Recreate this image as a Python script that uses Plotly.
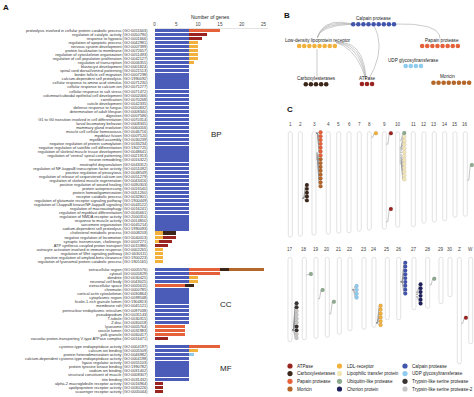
import plotly.graph_objects as go

FONT = "Arial, 'Liberation Sans', sans-serif"

# ---------------- Panel A data ----------------
BP_TERMS = [
    "proteolysis involved in cellular protein catabolic process", "regulation of catalytic activity",
    "response to hypoxia", "regulation of apoptotic process", "nervous system development",
    "protein localization to membrane", "regulation of cytoskeleton organization",
    "regulation of cell population proliferation", "regulation of transcription", "blastocyst development",
    "spinal cord dorsal/ventral patterning", "border follicle cell migration",
    "calcium-dependent self proteolysis", "cellular response to amino acid stimulus",
    "cellular response to calcium ion", "cellular response to salt stress",
    "columnar/cuboidal epithelial cell development", "cornification", "cuticle development",
    "defense response to fungus", "determination of adult lifespan", "digestion",
    "G1 to G0 transition involved in cell differentiation", "larval locomotory behavior",
    "mammary gland involution", "muscle cell cellular homeostasis", "myoblast fusion",
    "myofibril assembly", "negative regulation of protein sumoylation",
    "negative regulation of satellite cell differentiation", "regulation of skeletal muscle tissue development",
    "regulation of 'ventral' spinal cord patterning", "neuron remodeling", "neutrophil degranulation",
    "regulation of NF-kappaB transcription factor activity", "positive regulation of pinocytosis",
    "regulation of release of sequestered calcium ion", "regulation of skeletal muscle regeneration",
    "positive regulation of wound healing", "protein autoprocessing", "protein homooligomerization",
    "receptor catabolic process", "regulation of glutamate receptor signaling pathway",
    "regulation of I-kappaB kinase/NF-kappaB signaling", "regulation of macroautophagy",
    "regulation of myoblast differentiation", "regulation of NMDA receptor activity",
    "response to muscle activity", "sarcomere organization", "sodium-dependent self proteolysis",
    "cholesterol metabolic process", "negative regulation of locomotion",
    "synaptic transmission, cholinergic", "ATP synthesis coupled proton transport",
    "astrocyte activation involved in immune response", "regulation of Wnt signaling pathway",
    "positive regulation of amyloid-beta clearance", "regulation of lysosomal protein catabolic process",
]
BP_IDS = [
    "0051603", "0050790", "0001666", "0042981", "0007399", "0072657", "0051493", "0042127", "0006355", "0001824",
    "0021513", "0007298", "1990092", "0071230", "0071277", "0071472", "0002066", "0070268", "0042335", "0050832",
    "0008340", "0007586", "0070314", "0008345", "0060056", "0046716", "0007520", "0030239", "0033234", "1902725",
    "0048641", "0021913", "0016322", "0043312", "0051092", "0048549", "0051279", "0043416", "0090303", "0016540",
    "0051260", "0032801", "1900449", "0043122", "0016241", "0045661", "2000310", "0014850", "0045214", "1990093",
    "0008203", "0040013", "0007271", "0015986", "0002265", "0030111", "1900223", "1905165",
]
BP_CALPAIN = [8, 8, 8, 8, 8, 8, 8, 8, 8, 8,
              8, 8, 8, 8, 8, 8, 8, 8, 8, 8,
              8, 8, 8, 8, 8, 8, 8, 8, 8, 8,
              8, 8, 8, 8, 8, 8, 8, 8, 8, 8,
              8, 8, 8, 8, 8, 8, 8, 8, 8, 8,
              0, 0, 0, 0, 0, 0, 0, 0]
BP_PAPAIN = [7, 0, 0, 0, 0, 0, 0, 0, 0, 0,
             0, 0, 0, 0, 0, 0, 0, 0, 0, 0,
             0, 0, 0, 0, 0, 0, 0, 0, 0, 0,
             0, 0, 0, 0, 0, 0, 0, 0, 0, 0,
             0, 0, 0, 0, 0, 0, 0, 0, 0, 0,
             0, 0, 0, 0, 0, 0, 0, 0]
BP_LDL = [0, 0, 0, 2, 2, 2, 2, 2, 1, 0,
          0, 0, 0, 0, 0, 0, 0, 0, 0, 0,
          0, 0, 0, 0, 0, 0, 0, 0, 0, 0,
          0, 0, 0, 0, 0, 0, 0, 0, 0, 0,
          0, 0, 0, 0, 0, 0, 0, 0, 0, 0,
          2, 2, 1, 0, 2, 2, 2, 2]
BP_ATPASE = [0, 4, 3, 0, 0, 0, 0, 0, 0, 0,
             0, 0, 0, 0, 0, 0, 0, 0, 0, 0,
             0, 0, 0, 0, 0, 0, 0, 0, 0, 0,
             0, 0, 0, 0, 0, 0, 0, 0, 0, 0,
             0, 0, 0, 0, 0, 0, 0, 0, 0, 0,
             0, 3, 3, 3, 0, 0, 0, 0]
BP_CARBOX = [0, 0, 0, 0, 0, 0, 0, 0, 0, 0,
             0, 0, 0, 0, 0, 0, 0, 0, 0, 0,
             0, 0, 0, 0, 0, 0, 0, 0, 0, 0,
             0, 0, 0, 0, 0, 0, 0, 0, 0, 0,
             0, 0, 0, 0, 0, 0, 0, 0, 0, 0,
             3, 0, 0, 0, 0, 0, 0, 0]

CC_TERMS = [
    "extracellular region", "cytosol", "dendrite", "neuronal cell body", "extracellular space", "chromatin",
    "cortical actin cytoskeleton", "cytoplasmic region", "ficolin-1-rich granule lumen", "membrane raft",
    "perinuclear endoplasmic reticulum", "pseudopodium", "T-tubule", "Z disc", "lysosome", "vesicle lumen",
    "yolk granule", "vacuolar proton-transporting V-type ATPase complex",
]
CC_IDS = ["0005576", "0005829", "0030425", "0043025", "0005615", "0000785", "0030864", "0099568", "1904813",
          "0045121", "0097038", "0031143", "0030315", "0030018", "0005764", "0031983", "0060417", "0016471"]
CC_CALPAIN = [8, 8, 8, 8, 0, 8, 8, 8, 8, 8, 8, 8, 8, 8, 0, 0, 0, 0]
CC_PAPAIN = [7, 7, 0, 0, 7, 0, 0, 0, 0, 0, 0, 0, 0, 0, 7, 7, 7, 0]
CC_LDL = [0, 0, 2, 2, 0, 0, 0, 0, 0, 0, 0, 0, 0, 0, 0, 0, 0, 0]
CC_CARBOX = [2, 0, 0, 0, 2, 0, 0, 0, 0, 0, 0, 0, 0, 0, 0, 0, 0, 0]
CC_MORICIN = [8, 0, 0, 0, 0, 0, 0, 0, 0, 0, 0, 0, 0, 0, 0, 0, 0, 0]
CC_ATPASE = [0, 0, 0, 0, 0, 0, 0, 0, 0, 0, 0, 0, 0, 0, 0, 0, 0, 3]

MF_TERMS = [
    "cysteine-type endopeptidase activity", "calcium ion binding", "protein heterodimerization activity",
    "calcium-dependent cysteine-type endopeptidase activity", "ligase regulator activity",
    "protein tyrosine kinase binding", "sodium ion binding", "structural constituent of muscle", "titin binding",
    "alpha-2 macroglobulin receptor activity", "apolipoprotein receptor activity", "scavenger receptor activity",
]
MF_IDS = ["0004197", "0005509", "0046982", "0004198", "0055103", "1990782", "0031402", "0008307", "0031432",
          "0016964", "0030226", "0005044"]
MF_CALPAIN = [8, 8, 8, 8, 8, 8, 8, 8, 8, 0, 0, 0]
MF_PAPAIN = [7, 0, 0, 0, 0, 0, 0, 0, 0, 0, 0, 0]
MF_LDL = [0, 2, 0, 0, 0, 0, 0, 0, 0, 0, 0, 0]
MF_UDP = [0, 0, 1, 0, 0, 0, 0, 0, 0, 0, 0, 0]
MF_ATPASE = [0, 0, 0, 0, 0, 0, 0, 0, 0, 2, 2, 2]

TICKS_A = [0, 5, 10, 15, 20, 25]

# ---------------- Panel B data ----------------
NODES = ["Calpain protease", "Low-density lipoprotein receptor", "Papain protease", "UDP glycosyltransferase",
         "Carboxylesterases", "ATPase", "Moricin"]
NODE_GENES = [9, 8, 8, 4, 5, 3, 8]
EDGES = [("Calpain protease", "Low-density lipoprotein receptor", 4),
         ("Calpain protease", "Papain protease", 1),
         ("Calpain protease", "ATPase", 1),
         ("Low-density lipoprotein receptor", "ATPase", 4),
         ("Low-density lipoprotein receptor", "Carboxylesterases", 1)]

# ---------------- Panel C data ----------------
CHROMS_ROW1 = ["1", "2", "3", "4", "5", "6", "7", "8", "9", "10", "11", "12", "13", "14", "15", "16"]
CHROM_LEN_ROW1 = [21.1, 20.9, 20.7, 20.5, 20.3, 20.2, 19.9, 19.7, 19.5, 19.1, 19.0, 18.3, 18.1, 17.8, 17.1, 16.9]
CHROMS_ROW2 = ["17", "18", "19", "20", "21", "22", "23", "24", "25", "26", "27", "28", "29", "30", "Z", "W"]
CHROM_LEN_ROW2 = [16.9, 16.5, 16.2, 16.0, 15.4, 14.7, 14.4, 14.0, 12.5, 12.5, 10.5, 10.2, 9.3, 7.9, 21.3, 17.3]

# gene clusters: chromosome, families of member genes (in order), loci (Mb)
CL_CHROM = ["2", "3", "8", "9", "9", "10", "16", "17", "18", "19", "20", "22", "24", "26", "27", "28", "Z"]
CL_FAMILIES = [
    ["Carboxylesterases"] * 5,
    ["Papain protease"] * 7 + ["Moricin"] * 8,
    ["LDL-receptor"],
    ["ATPase"],
    ["ATPase"],
    ["Ubiquitin-like protease"] + ["Lipophilic transfer protein"] * 12,
    ["Ubiquitin-like protease"],
    ["Trypsin-like serine protease"] * 2 + ["Trypsin-like serine protease-2"] * 4
    + ["Trypsin-like serine protease"] * 2 + ["Trypsin-like serine protease-2"] * 2,
    ["Ubiquitin-like protease"],
    ["Ubiquitin-like protease"],
    ["Ubiquitin-like protease"],
    ["UDP glycosyltransferase"] * 4,
    ["LDL-receptor"] * 6,
    ["Calpain protease"] * 9,
    ["Chorion protein"] * 6,
    ["Ubiquitin-like protease"],
    ["ATPase"],
]
CL_LOCI = [
    [13.3, 13.3, 13.3, 13.3, 13.3],
    [0.3, 0.3, 0.3, 0.3, 0.3, 0.3, 0.3, 4.2, 4.4, 4.6, 4.8, 5.0, 5.2, 5.4, 5.6],
    [1.1], [2.5], [18.0],
    [1.7, 3.1, 3.3, 3.6, 3.9, 4.2, 4.5, 4.8, 5.1, 5.4, 5.7, 6.0, 6.3],
    [9.7],
    [14.5] * 10,
    [3.5], [8.3], [11.3],
    [6.5, 6.5, 6.5, 6.5],
    [13.1] * 6,
    [4.9] * 9,
    [7.0, 7.0, 7.4, 7.4, 7.9, 7.9],
    [5.5], [13.2],
]

LEGEND_COLS = [["ATPase", "Carboxylesterases", "Papain protease", "Moricin"],
               ["LDL-receptor", "Lipophilic transfer protein", "Ubiquitin-like protease", "Chorion protein"],
               ["Calpain protease", "UDP glycosyltransferase", "Trypsin-like serine protease",
                "Trypsin-like serine protease-2"]]

# ---------------- styles ----------------
COL = {
    "Calpain protease": "#4354ad", "LDL-receptor": "#f2b03c", "Papain protease": "#e5613a",
    "UDP glycosyltransferase": "#8ecbef", "Carboxylesterases": "#3c2619", "ATPase": "#9a2420",
    "Moricin": "#b5672a", "Lipophilic transfer protein": "#f3e6b6", "Ubiquitin-like protease": "#8eab8f",
    "Chorion protein": "#20205e", "Trypsin-like serine protease": "#3b3532",
    "Trypsin-like serine protease-2": "#c6c6c6",
}
COL["Low-density lipoprotein receptor"] = COL["LDL-receptor"]

W, H = 474, 397
fig = go.Figure()

# ======== Panel A ========
groups = [
    ("BP", BP_TERMS, BP_IDS, {"Calpain protease": BP_CALPAIN, "Papain protease": BP_PAPAIN,
                              "LDL-receptor": BP_LDL, "ATPase": BP_ATPASE, "Carboxylesterases": BP_CARBOX}),
    ("CC", CC_TERMS, CC_IDS, {"Calpain protease": CC_CALPAIN, "Papain protease": CC_PAPAIN,
                              "LDL-receptor": CC_LDL, "Carboxylesterases": CC_CARBOX, "Moricin": CC_MORICIN,
                              "ATPase": CC_ATPASE}),
    ("MF", MF_TERMS, MF_IDS, {"Calpain protease": MF_CALPAIN, "Papain protease": MF_PAPAIN,
                              "LDL-receptor": MF_LDL, "UDP glycosyltransferase": MF_UDP, "ATPase": MF_ATPASE}),
]
stack_order = ["Calpain protease", "Papain protease", "LDL-receptor", "UDP glycosyltransferase", "ATPase",
               "Carboxylesterases", "Moricin"]
A_COL = dict(COL)
A_COL["Calpain protease"] = "#4a5cb8"

ypos_all, ticktext_all, group_mid = [], [], []
fam_x = {f: [] for f in stack_order}
fam_y = {f: [] for f in stack_order}
offset = 0
for gname, terms, ids, counts in groups:
    ys = [offset + i for i in range(len(terms))]
    ypos_all += ys
    ticktext_all += [f"{t} (GO:{g})" for t, g in zip(terms, ids)]
    group_mid.append((gname, (ys[0] + ys[-1]) / 2))
    for f in stack_order:
        if f in counts:
            fam_x[f] += counts[f]
            fam_y[f] += ys
    offset += len(terms) + 1
n_slots = offset - 1

for f in stack_order:
    fig.add_trace(go.Bar(orientation="h", x=fam_x[f], y=fam_y[f], width=0.8,
                         marker=dict(color=A_COL[f], line=dict(width=0)),
                         xaxis="x", yaxis="y", showlegend=False, hoverinfo="skip"))

px_per_gene = 4.36
x0_px = 154.5
xmax = 26
top_px, pitch = 30.3, (391.3 - 30.3) / (n_slots - 1)
ytop = top_px - pitch / 2
ybot = top_px + (n_slots - 0.5) * pitch

# ======== Panel B ========
NODE_LAYOUT = {  # label x, label y, dot row y, dot row center x
    "Calpain protease": (373.5, 18.5, 24.3, 373.6),
    "Low-density lipoprotein receptor": (317.5, 40.8, 46.0, 317.0),
    "Papain protease": (441.5, 40.6, 46.0, 440.0),
    "UDP glycosyltransferase": (413.5, 60.0, 66.0, 413.3),
    "Carboxylesterases": (316.5, 78.8, 84.3, 316.0),
    "ATPase": (366.5, 78.0, 84.0, 367.0),
    "Moricin": (447.0, 76.6, 82.7, 451.3),
}
EDGE_GEOM = {  # start, end, list of control points (one per parallel line)
    ("Calpain protease", "Low-density lipoprotein receptor"):
        ((352.0, 24.0), (317.5, 37.5), [(324, 17), (322, 20), (321, 23), (320, 26)]),
    ("Calpain protease", "Papain protease"): ((395.0, 24.0), (440.0, 38.5), [(440, 23)]),
    ("Calpain protease", "ATPase"): ((374.5, 26.5), (368.5, 79.5), [(386, 50)]),
    ("Low-density lipoprotein receptor", "ATPase"):
        ((336.0, 42.5), (366.0, 79.5), [(364, 40), (362, 43), (360, 46), (357, 49)]),
    ("Low-density lipoprotein receptor", "Carboxylesterases"): ((317.0, 49.0), (317.0, 76.5), [(317, 62)]),
}
ex, ey = [], []
for s, t, n in EDGES:
    p0, p2, ctrls = EDGE_GEOM[(s, t)]
    for c in ctrls[:n]:
        for k in range(25):
            u = k / 24
            ex.append((1 - u) ** 2 * p0[0] + 2 * (1 - u) * u * c[0] + u ** 2 * p2[0])
            ey.append((1 - u) ** 2 * p0[1] + 2 * (1 - u) * u * c[1] + u ** 2 * p2[1])
        ex.append(None)
        ey.append(None)
fig.add_trace(go.Scatter(x=ex, y=ey, mode="lines", line=dict(color="#b4b4b4", width=0.7),
                         xaxis="x2", yaxis="y2", showlegend=False, hoverinfo="skip"))

annots = []
b_spacing = 5.1
for name, ng in zip(NODES, NODE_GENES):
    lx, ly, dy, dcx = NODE_LAYOUT[name]
    xs = [dcx + (i - (ng - 1) / 2) * b_spacing for i in range(ng)]
    fig.add_trace(go.Scatter(x=xs, y=[dy] * ng, mode="markers",
                             marker=dict(size=4.6, color=COL[name], line=dict(width=0)),
                             xaxis="x2", yaxis="y2", showlegend=False, hoverinfo="skip"))
    annots.append(dict(x=lx, y=ly, xref="x2", yref="y2", text=name, showarrow=False,
                       font=dict(size=4.6, color="#222", family=FONT)))

# ======== Panel C ========
ROW_TOP = [131.7, 257.3]
ROW_X = [[290.3, 300.3, 314.0, 328.3, 338.7, 349.0, 359.3, 369.3, 384.3, 397.7, 413.3, 424.0, 434.3, 444.7, 455.0,
          465.3],
         [290.0, 304.3, 316.0, 327.3, 339.3, 350.0, 364.0, 374.0, 387.3, 398.7, 414.0, 427.7, 441.0, 450.0, 459.3,
          470.7]]
PX_PER_MB = 5.0
CHR_W = 4.0
LABEL_DY = 7.5
DOT_DX = 6.6
DOT_STEP = 3.85
CL_DOT_START = [185.0, 132.3, 133.3, 133.3, 209.0, 133.0, 165.0, 303.3, 274.0, 290.0, 301.7, 286.0, 305.7, 262.7,
                284.3, 278.7, 317.7]

chrom_pos = {}
shapes = []
for r, (names, lens) in enumerate([(CHROMS_ROW1, CHROM_LEN_ROW1), (CHROMS_ROW2, CHROM_LEN_ROW2)]):
    for name, ln, xc in zip(names, lens, ROW_X[r]):
        y0 = ROW_TOP[r]
        y1 = y0 + ln * PX_PER_MB
        chrom_pos[name] = (xc, y0)
        rr = CHR_W / 2
        a, b = xc - rr, xc + rr
        path = (f"M {a},{y0 + rr} Q {a},{y0} {xc},{y0} Q {b},{y0} {b},{y0 + rr} L {b},{y1 - rr} "
                f"Q {b},{y1} {xc},{y1} Q {a},{y1} {a},{y1 - rr} Z")
        shapes.append(dict(type="path", path=path, xref="x2", yref="y2", layer="below",
                           line=dict(color="#d6d6d6", width=0.7), fillcolor="white"))
        annots.append(dict(x=xc, y=y0 - LABEL_DY, xref="x2", yref="y2", text=name, showarrow=False,
                           font=dict(size=4.6, color="#444", family=FONT)))

lx_, ly_ = [], []
dots = {}
for chrom, fams, loci, start in zip(CL_CHROM, CL_FAMILIES, CL_LOCI, CL_DOT_START):
    xc, y0 = chrom_pos[chrom]
    dx = xc + DOT_DX
    for i, (f, loc) in enumerate(zip(fams, loci)):
        dyy = start + i * DOT_STEP
        ly0 = y0 + loc * PX_PER_MB
        lx_ += [xc + CHR_W / 2, xc + CHR_W / 2 + 1.5, dx - 1.6, None]
        ly_ += [ly0, ly0, dyy, None]
        dots.setdefault(f, ([], []))
        dots[f][0].append(dx)
        dots[f][1].append(dyy)
fig.add_trace(go.Scatter(x=lx_, y=ly_, mode="lines", line=dict(color="#8a8a8a", width=0.5),
                         xaxis="x2", yaxis="y2", showlegend=False, hoverinfo="skip"))
for f, (xs, ys) in dots.items():
    fig.add_trace(go.Scatter(x=xs, y=ys, mode="markers",
                             marker=dict(size=3.9, color=COL[f], line=dict(width=0.3, color="rgba(0,0,0,0.25)")),
                             xaxis="x2", yaxis="y2", showlegend=False, hoverinfo="skip"))

# legend of panel C
LEG_X = [290.0, 339.5, 405.0]
LEG_Y = [366.0, 373.6, 381.3, 389.0]
for cx, col in zip(LEG_X, LEGEND_COLS):
    fig.add_trace(go.Scatter(x=[cx] * len(col), y=LEG_Y[:len(col)], mode="markers",
                             marker=dict(size=5.2, color=[COL[c] for c in col]),
                             xaxis="x2", yaxis="y2", showlegend=False, hoverinfo="skip"))
    for c, yy in zip(col, LEG_Y):
        annots.append(dict(x=cx + 5, y=yy, xref="x2", yref="y2", text=c, showarrow=False, xanchor="left",
                           font=dict(size=4.6, color="#222", family=FONT)))

# panel letters and A annotations
for letter, x, y in [("A", 6, 7), ("B", 287, 15), ("C", 290, 109)]:
    annots.append(dict(x=x, y=y, xref="x2", yref="y2", text=f"<b>{letter}</b>", showarrow=False,
                       font=dict(size=8, color="#111", family=FONT)))
annots.append(dict(x=210, y=16.5, xref="x2", yref="y2", text="Number of genes", showarrow=False,
                   font=dict(size=5, color="#222", family=FONT)))
for gname, mid in group_mid:
    annots.append(dict(x=12.5 if gname == "BP" else 14.5, y=mid if gname != "BP" else mid - 2.7,
                       xref="x", yref="y", text=gname, showarrow=False, xanchor="left",
                       font=dict(size=8, color="#222", family=FONT)))

fig.update_layout(
    width=W, height=H, margin=dict(l=0, r=0, t=0, b=0),
    paper_bgcolor="white", plot_bgcolor="rgba(0,0,0,0)",
    barmode="stack", bargap=0, showlegend=False,
    font=dict(family=FONT),
    xaxis=dict(domain=[x0_px / W, (x0_px + xmax * px_per_gene) / W], range=[0, xmax], side="top",
               tickvals=TICKS_A, tickfont=dict(size=4.6, color="#444"), showline=True, linecolor="#c8c8c8",
               linewidth=0.5, ticks="", showgrid=False, zeroline=False, anchor="y", fixedrange=True),
    yaxis=dict(domain=[1 - ybot / H, 1 - ytop / H], range=[n_slots - 0.5, -0.5], tickvals=ypos_all,
               ticktext=ticktext_all, tickfont=dict(size=3.9, color="#333"), showgrid=False, zeroline=False,
               showline=False, ticks="", ticklabelstandoff=6, anchor="x", fixedrange=True),
    xaxis2=dict(domain=[0, 1], range=[0, W], visible=False, anchor="y2", fixedrange=True),
    yaxis2=dict(domain=[0, 1], range=[H, 0], visible=False, anchor="x2", fixedrange=True),
    shapes=shapes, annotations=annots,
)

fig.write_html("out.html", config={"displayModeBar": False, "staticPlot": True},
               post_script="document.body.style.margin='0';document.body.style.overflow='hidden';")
